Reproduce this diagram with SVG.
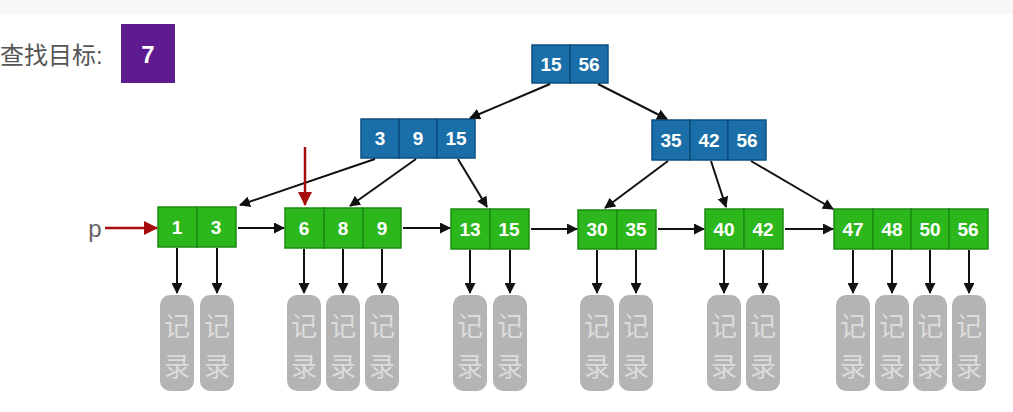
<svg xmlns="http://www.w3.org/2000/svg" width="1013" height="412" viewBox="0 0 1013 412">
<style>
text{font-family:"Liberation Sans","Noto Sans CJK SC",sans-serif}
.b rect{fill:#1a6fa8;stroke:#0d4f80;stroke-width:1.5}
.g rect{fill:#2cb81c;stroke:#1b8a12;stroke-width:1.5}
.b text,.g text{fill:#fff;font-size:19px;text-anchor:middle;font-weight:bold}
.r rect{fill:#b4b4b4}
.r text{fill:#dcdcdc;font-size:26px;text-anchor:middle}
.k{stroke:#111;stroke-width:2;fill:none;marker-end:url(#a)}
.red{stroke:#a80d0d;stroke-width:2.5;fill:none;marker-end:url(#ar)}
</style>
<defs>
<marker id="a" markerWidth="11" markerHeight="11" refX="10" refY="5.5" orient="auto" markerUnits="userSpaceOnUse" viewBox="0 0 11 11"><path d="M0,0L11,5.5L0,11z" fill="#111"/></marker>
<marker id="ar" markerWidth="14" markerHeight="14" refX="13" refY="7" orient="auto" markerUnits="userSpaceOnUse" viewBox="0 0 14 14"><path d="M0,0L14,7L0,14z" fill="#a80d0d"/></marker>
</defs>
<rect width="1013" height="412" fill="#fff"/>
<rect width="1013" height="14" fill="#f7f7f7"/>
<text x="0" y="64" font-size="24" fill="#555">查找目标:</text>
<g id="target"><rect x="121" y="24" width="54" height="59" fill="#5e1a8f"/><text x="148" y="63" font-size="24" font-weight="bold" fill="#fff" text-anchor="middle">7</text></g>
<text x="95" y="237" font-size="24" fill="#666" text-anchor="middle">p</text>

<g id="root" class="b"><rect x="532" y="45" width="38" height="38"/><rect x="570" y="45" width="38" height="38"/><text x="551" y="71">15</text><text x="589" y="71">56</text></g>
<g id="i1" class="b"><rect x="361" y="119" width="38" height="39"/><rect x="399" y="119" width="38" height="39"/><rect x="437" y="119" width="38" height="39"/><text x="380" y="145">3</text><text x="418" y="145">9</text><text x="456" y="145">15</text></g>
<g id="i2" class="b"><rect x="652" y="120" width="38" height="40"/><rect x="690" y="120" width="38" height="40"/><rect x="728" y="120" width="38" height="40"/><text x="671" y="147">35</text><text x="709" y="147">42</text><text x="747" y="147">56</text></g>

<g id="l1" class="g"><rect x="158" y="207" width="39" height="40"/><rect x="197" y="207" width="39" height="40"/><text x="177" y="234">1</text><text x="216" y="234">3</text></g>
<g id="l2" class="g"><rect x="285" y="208" width="39" height="40"/><rect x="324" y="208" width="39" height="40"/><rect x="363" y="208" width="38" height="40"/><text x="304" y="235">6</text><text x="343" y="235">8</text><text x="382" y="235">9</text></g>
<g id="l3" class="g"><rect x="451" y="209" width="39" height="40"/><rect x="490" y="209" width="39" height="40"/><text x="470" y="236">13</text><text x="509" y="236">15</text></g>
<g id="l4" class="g"><rect x="578" y="210" width="39" height="39"/><rect x="617" y="210" width="39" height="39"/><text x="597" y="236">30</text><text x="636" y="236">35</text></g>
<g id="l5" class="g"><rect x="705" y="209" width="39" height="40"/><rect x="744" y="209" width="39" height="40"/><text x="724" y="236">40</text><text x="763" y="236">42</text></g>
<g id="l6" class="g"><rect x="834" y="209" width="39" height="40"/><rect x="873" y="209" width="38" height="40"/><rect x="911" y="209" width="38" height="40"/><rect x="949" y="209" width="39" height="40"/><text x="853" y="236">47</text><text x="892" y="236">48</text><text x="930" y="236">50</text><text x="968" y="236">56</text></g>

<g id="records" class="r">
<g><rect x="160" y="295" width="34" height="96" rx="10"/><text x="177" y="336">记</text><text x="177" y="376">录</text></g>
<g><rect x="200" y="295" width="34" height="96" rx="10"/><text x="217" y="336">记</text><text x="217" y="376">录</text></g>
<g><rect x="287" y="295" width="34" height="96" rx="10"/><text x="304" y="336">记</text><text x="304" y="376">录</text></g>
<g><rect x="326" y="295" width="34" height="96" rx="10"/><text x="343" y="336">记</text><text x="343" y="376">录</text></g>
<g><rect x="365" y="295" width="34" height="96" rx="10"/><text x="382" y="336">记</text><text x="382" y="376">录</text></g>
<g><rect x="453" y="295" width="34" height="96" rx="10"/><text x="470" y="336">记</text><text x="470" y="376">录</text></g>
<g><rect x="493" y="295" width="34" height="96" rx="10"/><text x="510" y="336">记</text><text x="510" y="376">录</text></g>
<g><rect x="580" y="295" width="34" height="96" rx="10"/><text x="597" y="336">记</text><text x="597" y="376">录</text></g>
<g><rect x="619" y="295" width="34" height="96" rx="10"/><text x="636" y="336">记</text><text x="636" y="376">录</text></g>
<g><rect x="707" y="295" width="34" height="96" rx="10"/><text x="724" y="336">记</text><text x="724" y="376">录</text></g>
<g><rect x="746" y="295" width="34" height="96" rx="10"/><text x="763" y="336">记</text><text x="763" y="376">录</text></g>
<g><rect x="836" y="295" width="34" height="96" rx="10"/><text x="853" y="336">记</text><text x="853" y="376">录</text></g>
<g><rect x="875" y="295" width="34" height="96" rx="10"/><text x="892" y="336">记</text><text x="892" y="376">录</text></g>
<g><rect x="913" y="295" width="34" height="96" rx="10"/><text x="930" y="336">记</text><text x="930" y="376">录</text></g>
<g><rect x="952" y="295" width="34" height="96" rx="10"/><text x="969" y="336">记</text><text x="969" y="376">录</text></g>
</g>

<g id="connectors">
<line class="k" x1="550" y1="84" x2="470" y2="118"/>
<line class="k" x1="598" y1="84" x2="667" y2="119"/>
<line class="k" x1="375" y1="159" x2="240" y2="205"/>
<line class="k" x1="416" y1="159" x2="350" y2="206"/>
<line class="k" x1="458" y1="159" x2="487" y2="207"/>
<line class="k" x1="668" y1="161" x2="605" y2="208"/>
<line class="k" x1="711" y1="161" x2="726" y2="207"/>
<line class="k" x1="751" y1="161" x2="833" y2="209"/>
<line class="k" x1="238" y1="228" x2="284" y2="228"/>
<line class="k" x1="403" y1="228" x2="450" y2="228"/>
<line class="k" x1="531" y1="229" x2="577" y2="229"/>
<line class="k" x1="658" y1="229" x2="704" y2="229"/>
<line class="k" x1="785" y1="229" x2="833" y2="229"/>
<line class="k" x1="177" y1="248" x2="177" y2="293"/>
<line class="k" x1="217" y1="248" x2="217" y2="293"/>
<line class="k" x1="304" y1="249" x2="304" y2="293"/>
<line class="k" x1="343" y1="249" x2="343" y2="293"/>
<line class="k" x1="382" y1="249" x2="382" y2="293"/>
<line class="k" x1="470" y1="250" x2="470" y2="293"/>
<line class="k" x1="510" y1="250" x2="510" y2="293"/>
<line class="k" x1="597" y1="250" x2="597" y2="293"/>
<line class="k" x1="636" y1="250" x2="636" y2="293"/>
<line class="k" x1="724" y1="250" x2="724" y2="293"/>
<line class="k" x1="763" y1="250" x2="763" y2="293"/>
<line class="k" x1="853" y1="250" x2="853" y2="293"/>
<line class="k" x1="892" y1="250" x2="892" y2="293"/>
<line class="k" x1="930" y1="250" x2="930" y2="293"/>
<line class="k" x1="969" y1="250" x2="969" y2="293"/>
<line class="red" x1="305" y1="147" x2="305" y2="205"/>
<line class="red" x1="105" y1="228" x2="157" y2="228"/>
</g>
</svg>
